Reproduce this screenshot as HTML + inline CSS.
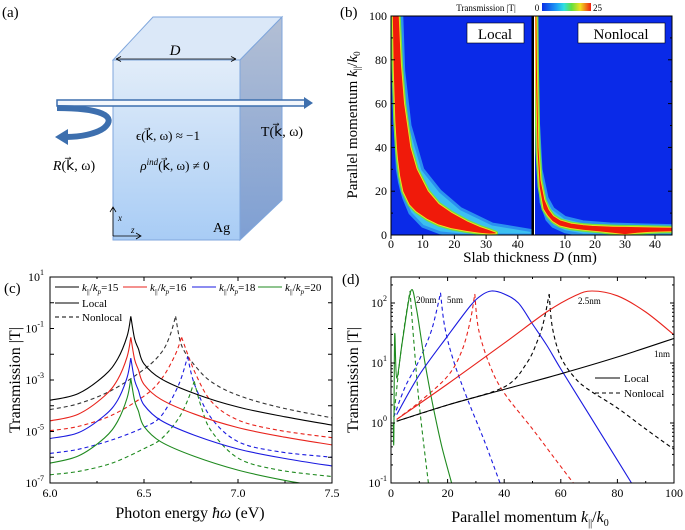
<!DOCTYPE html>
<html><head><meta charset="utf-8"><style>
body{margin:0;background:#fff}
svg{display:block;font-family:"Liberation Serif",serif}
</style></head><body>
<svg id="fig" width="685" height="530" viewBox="0 0 685 530" xmlns="http://www.w3.org/2000/svg">
<defs>
<linearGradient id="gFront" x1="0" y1="0" x2="0" y2="1"><stop offset="0" stop-color="#e2edf9"/><stop offset="1" stop-color="#a8ccf5"/></linearGradient>
<linearGradient id="gSide" x1="0" y1="0" x2="0" y2="1"><stop offset="0" stop-color="#b3bfd4"/><stop offset="1" stop-color="#7e9fd3"/></linearGradient>
<linearGradient id="gCbar" x1="0" y1="0" x2="1" y2="0"><stop offset="0" stop-color="#0a2ee6"/><stop offset="0.3" stop-color="#1fa0f5"/><stop offset="0.45" stop-color="#30e0e0"/><stop offset="0.6" stop-color="#60e040"/><stop offset="0.78" stop-color="#f0e020"/><stop offset="1" stop-color="#f02010"/></linearGradient>
<clipPath id="cbL"><rect x="391" y="16" width="141" height="219"/></clipPath>
<clipPath id="cbR"><rect x="535" y="16" width="137" height="219"/></clipPath>
<clipPath id="cc"><rect x="50" y="277" width="282" height="206"/></clipPath>
<clipPath id="cd"><rect x="391" y="277" width="283" height="206"/></clipPath>
</defs>

<!-- Panel (a) -->
<g>
<text x="2" y="17" font-size="15">(a)</text>
<polygon points="113,60 153,17 282,17 240,60" fill="#dbe8f8" stroke="#7fa6dc" stroke-width="1"/>
<polygon points="240,60 282,17 282,200 240,240" fill="url(#gSide)" stroke="#7fa6dc" stroke-width="1"/>
<rect x="113" y="60" width="127" height="180" fill="url(#gFront)" stroke="#7fa6dc" stroke-width="1"/>
<line x1="116" y1="59" x2="236" y2="59" stroke="#000" stroke-width="0.8"/>
<path d="M116,59 l5,-2.5 M116,59 l5,2.5 M236,59 l-5,-2.5 M236,59 l-5,2.5" stroke="#000" stroke-width="0.8" fill="none"/>
<text x="175" y="55" font-size="15" font-style="italic" text-anchor="middle">D</text>
<rect x="57" y="100" width="248" height="6" fill="#f3f7fc" stroke="#3d6fae" stroke-width="1.5"/>
<polygon points="304,97 313,103 304,109" fill="#3d6fae"/>
<path d="M57,108 C100,108 118,116 104,128 C96,134 80,137 66,137" stroke="#3d6fae" stroke-width="6" fill="none"/>
<polygon points="55,137 68,129 68,145" fill="#3d6fae"/>
<text x="168" y="140" font-size="13" text-anchor="middle">ϵ(k⃗, ω) ≈ −1</text>
<text x="175" y="170" font-size="13" text-anchor="middle"><tspan font-style="italic">ρ</tspan><tspan font-size="9" dy="-5" font-style="italic">ind</tspan><tspan dy="5">(k⃗, ω) ≠ 0</tspan></text>
<text x="74" y="170" font-size="14" text-anchor="middle"><tspan font-style="italic">R</tspan>(k⃗, ω)</text>
<text x="282" y="136" font-size="14" text-anchor="middle">T(k⃗, ω)</text>
<text x="213" y="232" font-size="14">Ag</text>
<path d="M113,236 L113,208 M110,212 L113,207 L116,212 M113,236 L140,236 M136,233 L141,236 L136,239" stroke="#000" stroke-width="0.8" fill="none"/>
<text x="118" y="221" font-size="9" font-style="italic">x</text>
<text x="131" y="233" font-size="9" font-style="italic">z</text>
</g>

<!-- Panel (b) -->
<g id="pb">
<text x="340" y="17" font-size="15">(b)</text>
<text x="486" y="11" font-size="9" text-anchor="middle">Transmission |T|</text>
<text x="537" y="11" font-size="9" text-anchor="middle">0</text>
<rect x="542" y="3" width="49" height="8" fill="url(#gCbar)"/>
<text x="593" y="11" font-size="9">25</text>
<rect x="391" y="16" width="141" height="219" fill="#0a2ae8"/>
<rect x="535" y="16" width="137" height="219" fill="#0a2ae8"/>
<g id="bL" clip-path="url(#cbL)"></g>
<g id="bR" clip-path="url(#cbR)"></g>
<rect x="391" y="16" width="141" height="219" fill="none" stroke="#000" stroke-width="1"/>
<rect x="533" y="16" width="139" height="219" fill="none" stroke="#000" stroke-width="1"/>
<line x1="533" y1="16" x2="533" y2="235" stroke="#000" stroke-width="2"/>
<rect x="467" y="23" width="57" height="20" fill="#fff" stroke="#000" stroke-width="0.6"/>
<text x="495" y="39" font-size="15" text-anchor="middle">Local</text>
<rect x="578" y="23" width="87" height="20" fill="#fff" stroke="#000" stroke-width="0.6"/>
<text x="621" y="39" font-size="15" text-anchor="middle">Nonlocal</text>
<text transform="translate(357,125) rotate(-90)" font-size="15" text-anchor="middle">Parallel momentum <tspan font-style="italic">k</tspan><tspan font-size="9" dy="3">||</tspan><tspan dy="-3">/</tspan><tspan font-style="italic">k</tspan><tspan font-size="9" dy="3">0</tspan></text>
<text x="530" y="262" font-size="15" text-anchor="middle">Slab thickness <tspan font-style="italic">D</tspan> (nm)</text>
</g>

<!-- Panel (c) -->
<g id="pc">
<text x="4" y="293" font-size="15">(c)</text>
<g id="cLines" clip-path="url(#cc)"></g>
<rect x="50" y="277" width="282" height="206" fill="none" stroke="#000" stroke-width="1"/>
<text transform="translate(20,380) rotate(-90)" font-size="16" text-anchor="middle">Transmission |T|</text>
<text x="190" y="518" font-size="16" text-anchor="middle">Photon energy <tspan font-style="italic">ħω</tspan> (eV)</text>
</g>

<!-- Panel (d) -->
<g id="pd">
<text x="342" y="284" font-size="15">(d)</text>
<g id="dLines" clip-path="url(#cd)"></g>
<rect x="391" y="277" width="283" height="206" fill="none" stroke="#000" stroke-width="1"/>
<text x="416" y="303" font-size="9">20nm</text>
<text x="447" y="303" font-size="9">5nm</text>
<text x="578" y="304" font-size="9">2.5nm</text>
<text x="654" y="357" font-size="9">1nm</text>
<line x1="595" y1="378" x2="620" y2="378" stroke="#000" stroke-width="1"/>
<text x="624" y="382" font-size="11">Local</text>
<line x1="595" y1="393" x2="620" y2="393" stroke="#000" stroke-width="1" stroke-dasharray="4,3"/>
<text x="624" y="397" font-size="11">Nonlocal</text>
<text transform="translate(358,380) rotate(-90)" font-size="16" text-anchor="middle">Transmission |T|</text>
<text x="530" y="522" font-size="16" text-anchor="middle">Parallel momentum <tspan font-style="italic">k</tspan><tspan font-size="10" dy="4">||</tspan><tspan dy="-4">/</tspan><tspan font-style="italic">k</tspan><tspan font-size="10" dy="4">0</tspan></text>
</g>
</svg>
<script>
// ---------- Panel (b) data ----------
const locRedD  = [0.7,1,1.5,2,2.3,3,4,6,8,11.5,15,19,24,28,31,33];
const locRedHi = [100,100,100,100,100,78,60,40,30,20,14,10,6,3.5,2,0.9];
const locRedLo = [100,75,52,40,35,27,20,14,11,7.5,5,3.3,2,1.2,0.8,0.9];
const locGlowD  = [0.4,1,2,2.7,3.4,4,6,10,15.5,22,32,44.5];
const locGlowHi = [100,100,100,100,100,75,50,30,20,12,5,2];
const locGlowLo = [100,60,30,24,20,17,10,4,1,0,0,0];
const nlRedD  = [0.3,0.5,1,1.7,3,4.4,6,8.3,12,16,19,22,26,30,34,38,42,45.7];
const nlRedHi = [100,70,40,25,16,11.5,8.5,6.5,5,4.3,4,3.8,3.6,3.5,3.4,3.3,3.2,3.1];
const nlRedLo = [100,75,38,22,12,9,6.5,4.5,3.3,2.6,2.2,1.8,1.2,0.6,1.2,1.6,1.8,1.9];
const nlGlowD  = [0.1,0.3,0.8,2,4,6,10,16,25,35,45.7];
const nlGlowHi = [100,100,60,30,17,12,8,6,5,4.6,4.3];
const nlGlowLo = [100,80,40,15,7,4,1.5,0,0,0,0];
const bYTicks = [0,20,40,60,80,100];
const bXTicksL = [0,10,20,30,40];
const bXTicksR = [10,20,30,40];

// ---------- Panel (c) data (log10 |T|) ----------
const cLocX = [6.0,6.15,6.29,6.36,6.41,6.43,6.45,6.47,6.5,6.59,6.77,7.0,7.25,7.5];
const cLoc15 = [-3.79,-3.53,-2.82,-2.18,-1.3,-0.53,-1.4,-1.79,-2.37,-2.95,-3.53,-4.05,-4.43,-4.75];
const cLoc16 = [-4.59,-4.33,-3.62,-2.98,-2.1,-1.34,-2.2,-2.6,-3.17,-3.75,-4.33,-4.85,-5.22,-5.52];
const cLoc18 = [-5.27,-5.05,-4.38,-3.78,-2.9,-2.15,-3.0,-3.4,-3.97,-4.57,-5.15,-5.68,-6.05,-6.34];
const cLoc20 = [-6.23,-5.95,-5.25,-4.6,-3.7,-2.95,-3.8,-4.2,-4.8,-5.4,-5.97,-6.5,-6.9,-7.2];
const cNl15X = [6.0,6.151,6.328,6.505,6.594,6.638,6.668,6.700,6.771,6.86,7.002,7.214,7.5];
const cNl15  = [-4.15,-3.92,-3.4,-2.56,-1.92,-1.28,-0.53,-1.66,-2.44,-3.08,-3.6,-4.05,-4.47];
const cNl16X = [6.0,6.151,6.328,6.505,6.594,6.665,6.700,6.771,6.86,7.002,7.214,7.5];
const cNl16  = [-4.97,-4.8,-4.37,-3.6,-2.95,-2.04,-1.34,-2.7,-3.85,-4.56,-4.95,-5.24];
const cNl18X = [6.0,6.151,6.328,6.505,6.594,6.683,6.732,6.771,6.86,7.002,7.214,7.5];
const cNl18  = [-5.85,-5.69,-5.33,-4.82,-4.37,-3.21,-2.1,-3.21,-4.5,-5.4,-5.78,-6.0];
const cNl20X = [6.0,6.151,6.328,6.505,6.594,6.683,6.736,6.767,6.807,6.86,7.002,7.214,7.5];
const cNl20  = [-6.68,-6.55,-6.23,-5.65,-5.27,-4.5,-3.72,-3.05,-4.1,-5.0,-6.04,-6.49,-6.75];
const cXTicks = [6.0,6.5,7.0,7.5];
const cYTickExp = [1,-1,-3,-5,-7];
const cLegendK = ["15","16","18","20"];

// ---------- Panel (d) data (log10 |T|) ----------
const dBlueX = [2,10,20,28,32,35.5,40,45,50,55,60,70,80,85];
const dBlue  = [0.14,0.8,1.45,1.95,2.13,2.2,2.15,2.0,1.65,1.3,0.9,0.14,-0.62,-1];
const dRedX = [2,20,40,55,65,71,80,90,100];
const dRed  = [0.06,0.65,1.33,1.85,2.12,2.2,2.12,1.85,1.47];
const dBlackX = [2,20,40,60,80,100];
const dBlack  = [0.03,0.3,0.56,0.82,1.1,1.41];
const dGreenX = [0.8,1.0,1.3,2.0,4.0,7.0,9.0,12,15,18,21.4];
const dGreen  = [0,-0.3,1.47,0.75,1.35,2.2,1.9,1.0,0.25,-0.4,-1];
const dGreenNlX = [1,3,5,6.7,8,10,13.2];
const dGreenNl  = [0.1,1.0,1.7,2.2,1.4,0.3,-1];
const dBlueNlX = [1,5,10,14,16,17.5,19,22,27,33,38.5];
const dBlueNl  = [0.1,0.6,1.05,1.5,1.85,2.17,1.6,1.05,0.4,-0.3,-1];
const dRedNlX = [2,10,20,25,28,29.6,31,35,40,50,58,64.4];
const dRedNl  = [0.06,0.35,0.78,1.2,1.7,2.15,1.55,0.95,0.5,-0.1,-0.6,-1];
const dBlackNlX = [2,20,40,48,52,54,55.9,57,60,65,70,80,90,100];
const dBlackNl  = [0.03,0.3,0.6,1.0,1.4,1.7,2.15,1.6,1.1,0.75,0.55,0.25,-0.1,-0.44];
const dXTicks = [0,20,40,60,80,100];
const dYTickExp = [2,1,0,-1];

const NS = "http://www.w3.org/2000/svg";
function mk(parent, tag, attrs){const e=document.createElementNS(NS,tag);for(const k in attrs)e.setAttribute(k,attrs[k]);parent.appendChild(e);return e;}

// ---- (b) ----
const bY = k => 235 - k*2.19;
const bXL = d => 391 + d*3.17;
const bXR = d => 535 + d*3.0;
function bandPts(X, D, hi, lo){
  let p=[];for(let i=0;i<D.length;i++)p.push(X(D[i])+","+bY(hi[i]));
  for(let i=D.length-1;i>=0;i--)p.push(X(D[i])+","+bY(lo[i]));return p.join(" ");}
function drawMap(g, X, gD, gHi, gLo, rD, rHi, rLo, nm){
  const a=mk(g,"polygon",{points:bandPts(X,gD,gHi,gLo),fill:"#3cc0f0",stroke:"#2a90f0","stroke-width":3,"stroke-linejoin":"round"});
  
  
  mk(g,"polygon",{points:bandPts(X,rD,rHi,rLo),fill:"none",stroke:"#70e040","stroke-width":5,"stroke-linejoin":"round"});
  mk(g,"polygon",{points:bandPts(X,rD,rHi,rLo),fill:"none",stroke:"#f5e020","stroke-width":2.5,"stroke-linejoin":"round"});
  const r=mk(g,"polygon",{points:bandPts(X,rD,rHi,rLo),fill:"#f01a0a",stroke:"#f01a0a","stroke-width":0.8});
  
  
}
drawMap(document.getElementById("bL"),bXL,locGlowD,locGlowHi,locGlowLo,locRedD,locRedHi,locRedLo,'local');
drawMap(document.getElementById("bR"),bXR,nlGlowD,nlGlowHi,nlGlowLo,nlRedD,nlRedHi,nlRedLo,'nonlocal');
const pb=document.getElementById("pb");
bYTicks.forEach(v=>{
  const t=mk(pb,"text",{x:387,y:bY(v)+4,"font-size":12,"text-anchor":"end"});t.textContent=v;
  
  
  mk(pb,"line",{x1:391,y1:bY(v),x2:395,y2:bY(v),stroke:"#000"});
  mk(pb,"line",{x1:668,y1:bY(v),x2:672,y2:bY(v),stroke:"#000"});
  if(v<100){mk(pb,"line",{x1:391,y1:bY(v+10),x2:393,y2:bY(v+10),stroke:"#000"});mk(pb,"line",{x1:670,y1:bY(v+10),x2:672,y2:bY(v+10),stroke:"#000"});}
});
bXTicksL.forEach(v=>{const t=mk(pb,"text",{x:bXL(v),y:248,"font-size":12,"text-anchor":"middle"});t.textContent=v;
  
  
  mk(pb,"line",{x1:bXL(v),y1:235,x2:bXL(v),y2:239,stroke:"#000"});});
bXTicksR.forEach(v=>{const t=mk(pb,"text",{x:bXR(v),y:248,"font-size":12,"text-anchor":"middle"});t.textContent=v;
  
  
  mk(pb,"line",{x1:bXR(v),y1:235,x2:bXR(v),y2:239,stroke:"#000"});});

// ---- smooth line, cusp kept at maximum ----
function crPath(pts){
  let d="";
  for(let i=0;i<pts.length;i++){
    const p=pts[i];
    if(i===0){d+="M"+p[0].toFixed(1)+","+p[1].toFixed(1);continue;}
    const p0=pts[Math.max(i-2,0)],p1=pts[i-1],p2=p,p3=pts[Math.min(i+1,pts.length-1)];
    const c1=[p1[0]+(p2[0]-p0[0])/6,p1[1]+(p2[1]-p0[1])/6];
    const c2=[p2[0]-(p3[0]-p1[0])/6,p2[1]-(p3[1]-p1[1])/6];
    d+="C"+c1[0].toFixed(1)+","+c1[1].toFixed(1)+" "+c2[0].toFixed(1)+","+c2[1].toFixed(1)+" "+p2[0].toFixed(1)+","+p2[1].toFixed(1);
  }
  return d;}
function line(g, xs, ys, X, Y, color, dashed, name, cusp){
  const pts=xs.map((x,i)=>[X(x),Y(ys[i])]);
  let d;
  if(cusp){let m=0;ys.forEach((v,i)=>{if(v>ys[m])m=i;});
    d=crPath(pts.slice(0,m+1))+" "+crPath(pts.slice(m)).replace(/^M/,"M");}
  else d=crPath(pts);
  const p=mk(g,"path",{d:d,fill:"none",stroke:color,"stroke-width":1.1,"stroke-linejoin":"round"});
  if(dashed)p.setAttribute("stroke-dasharray","4,3");
  
  
}
function sup(parent,x,y,base,exp,anchor){
  const t=mk(parent,"text",{x:x,y:y,"font-size":12,"text-anchor":anchor||"end"});
  const a=document.createElementNS(NS,"tspan");a.textContent=base;t.appendChild(a);
  const b=document.createElementNS(NS,"tspan");b.setAttribute("font-size","8");b.setAttribute("dy","-6");b.textContent=exp;t.appendChild(b);
  return t;}

// ---- (c) ----
const cX = v => 50 + (v-6)*188;
const cY = e => 277 + (1-e)*25.75;
const cg=document.getElementById("cLines");
const COL={k:"#000",r:"#e8231c",b:"#1a1ae0",g:"#1f8a1f"};
line(cg,cNl15X,cNl15,cX,cY,"#333",true,'nonlocal-k15-line',true);
line(cg,cNl16X,cNl16,cX,cY,COL.r,true,'nonlocal-k16-line',true);
line(cg,cNl18X,cNl18,cX,cY,COL.b,true,'nonlocal-k18-line',true);
line(cg,cNl20X,cNl20,cX,cY,COL.g,true,'nonlocal-k20-line',true);
line(cg,cLocX,cLoc15,cX,cY,COL.k,false,'local-k15-line',true);
line(cg,cLocX,cLoc16,cX,cY,COL.r,false,'local-k16-line',true);
line(cg,cLocX,cLoc18,cX,cY,COL.b,false,'local-k18-line',true);
line(cg,cLocX,cLoc20,cX,cY,COL.g,false,'local-k20-line',true);
const pc=document.getElementById("pc");
for(let e=1;e>=-7;e--){
  mk(pc,"line",{x1:50,y1:cY(e),x2:54,y2:cY(e),stroke:"#000"});mk(pc,"line",{x1:328,y1:cY(e),x2:332,y2:cY(e),stroke:"#000"});}
cYTickExp.forEach(e=>{const t=sup(pc,44,cY(e)+4,"10",String(e));
  
  });
cXTicks.forEach(v=>{const t=mk(pc,"text",{x:cX(v),y:497,"font-size":12,"text-anchor":"middle"});t.textContent=v.toFixed(1);
  
  
  mk(pc,"line",{x1:cX(v),y1:483,x2:cX(v),y2:479,stroke:"#000"});mk(pc,"line",{x1:cX(v),y1:277,x2:cX(v),y2:281,stroke:"#000"});
  if(v<7.5){mk(pc,"line",{x1:cX(v+0.25),y1:483,x2:cX(v+0.25),y2:481,stroke:"#000"});mk(pc,"line",{x1:cX(v+0.25),y1:277,x2:cX(v+0.25),y2:279,stroke:"#000"});}});
const legX=[55,123,192,258], legC=[COL.k,COL.r,COL.b,COL.g];
cLegendK.forEach((k,i)=>{
  mk(pc,"line",{x1:legX[i],y1:287,x2:legX[i]+24,y2:287,stroke:legC[i],"stroke-width":1.1});
  const t=mk(pc,"text",{x:legX[i]+27,y:291,"font-size":11});
  t.innerHTML='<tspan font-style="italic">k</tspan><tspan font-size="7" dy="3">||</tspan><tspan dy="-3">/</tspan><tspan font-style="italic">k</tspan><tspan font-size="7" dy="3" font-style="italic">p</tspan><tspan dy="-3">='+k+'</tspan>';
  
  
});
mk(pc,"line",{x1:55,y1:303,x2:79,y2:303,stroke:"#000","stroke-width":1.1});
let tl=mk(pc,"text",{x:82,y:307,"font-size":11});tl.textContent="Local";


mk(pc,"line",{x1:55,y1:317,x2:79,y2:317,stroke:"#000","stroke-width":1.1,"stroke-dasharray":"4,3"});
tl=mk(pc,"text",{x:82,y:321,"font-size":11});tl.textContent="Nonlocal";



// ---- (d) ----
const dX = v => 391 + v*2.83;
const dY = e => 423 - e*60;
const dg=document.getElementById("dLines");
line(dg,dGreenNlX,dGreenNl,dX,dY,COL.g,true,'nonlocal-20nm-line',true);
line(dg,dBlueNlX,dBlueNl,dX,dY,COL.b,true,'nonlocal-5nm-line',true);
line(dg,dRedNlX,dRedNl,dX,dY,COL.r,true,'nonlocal-2.5nm-line',true);
line(dg,dBlackNlX,dBlackNl,dX,dY,"#000",true,'nonlocal-1nm-line',true);
line(dg,dGreenX,dGreen,dX,dY,COL.g,false,'local-20nm-line',false);
line(dg,dBlueX,dBlue,dX,dY,COL.b,false,'local-5nm-line',false);
line(dg,dRedX,dRed,dX,dY,COL.r,false,'local-2.5nm-line',false);
line(dg,dBlackX,dBlack,dX,dY,"#000",false,'local-1nm-line',false);
const pd=document.getElementById("pd");
dYTickExp.forEach(e=>{const t=sup(pd,387,dY(e)+4,"10",String(e));
  
  
  mk(pd,"line",{x1:391,y1:dY(e),x2:395,y2:dY(e),stroke:"#000"});mk(pd,"line",{x1:670,y1:dY(e),x2:674,y2:dY(e),stroke:"#000"});
  for(let m=2;m<10;m++){const yy=dY(e+Math.log10(m));if(yy<277)continue;
    mk(pd,"line",{x1:391,y1:yy,x2:393,y2:yy,stroke:"#000"});mk(pd,"line",{x1:672,y1:yy,x2:674,y2:yy,stroke:"#000"});}});
dXTicks.forEach(v=>{const t=mk(pd,"text",{x:dX(v),y:497,"font-size":12,"text-anchor":"middle"});t.textContent=v;
  
  
  mk(pd,"line",{x1:dX(v),y1:483,x2:dX(v),y2:479,stroke:"#000"});mk(pd,"line",{x1:dX(v),y1:277,x2:dX(v),y2:281,stroke:"#000"});
  if(v<100){mk(pd,"line",{x1:dX(v+10),y1:483,x2:dX(v+10),y2:481,stroke:"#000"});mk(pd,"line",{x1:dX(v+10),y1:277,x2:dX(v+10),y2:279,stroke:"#000"});}});
</script>
</body></html>
